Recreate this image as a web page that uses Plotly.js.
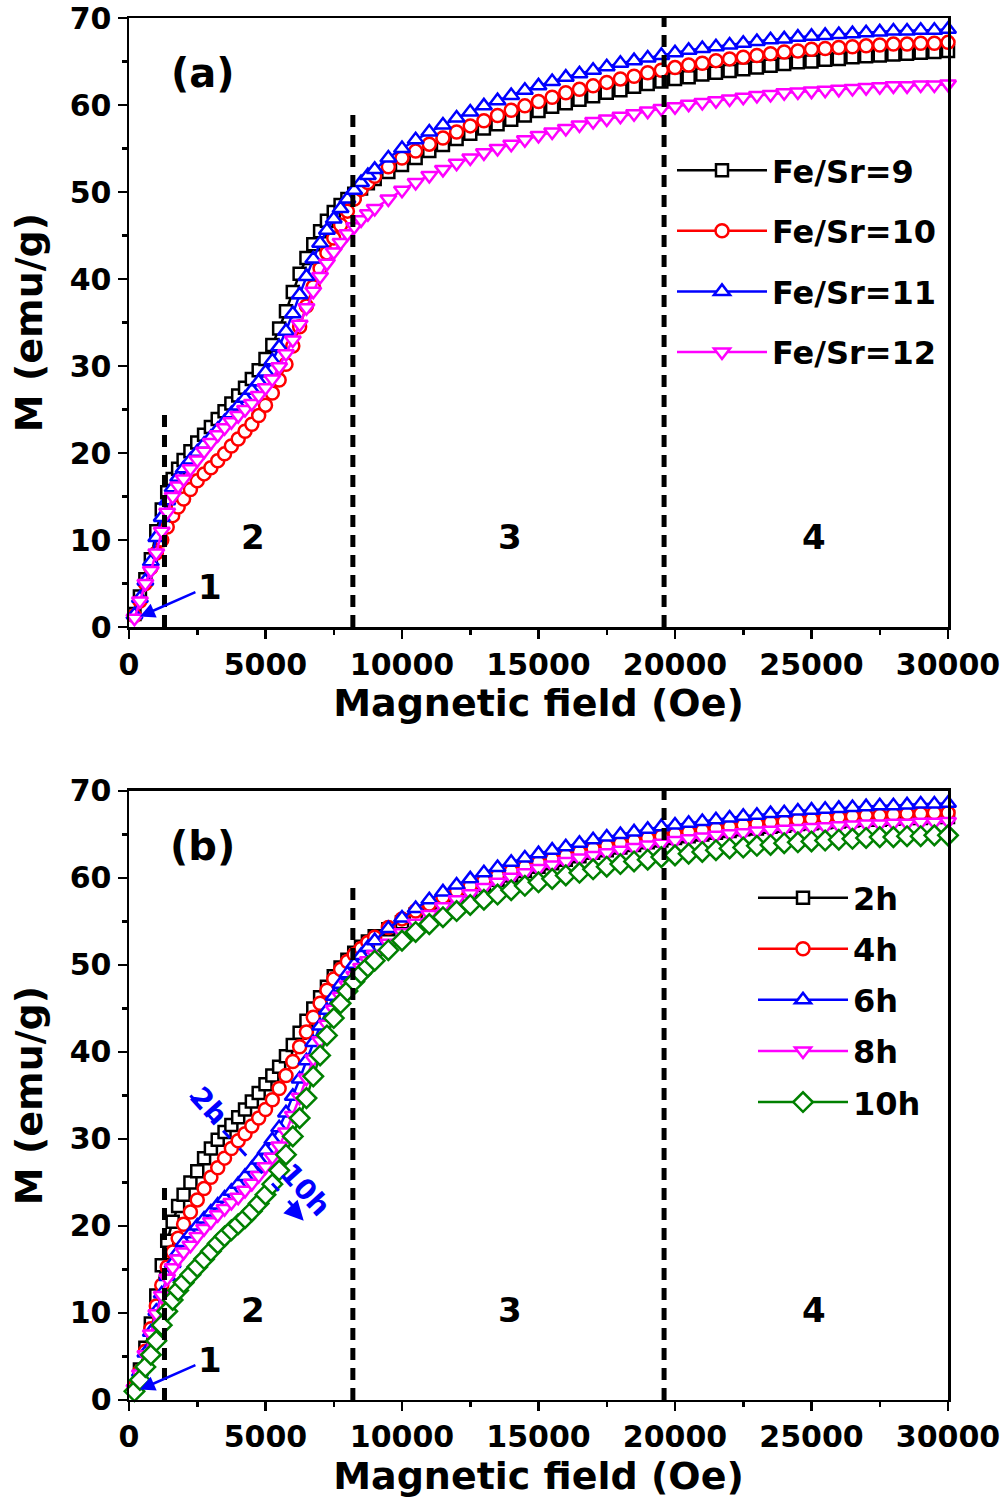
<!DOCTYPE html>
<html>
<head>
<meta charset="utf-8">
<script src="https://cdn.plot.ly/plotly-3.0.1.min.js"></script>
<style>html,body{margin:0;padding:0;background:#fff;}#chart{width:1000px;height:1504px;}</style>
</head>
<body>
<div id="chart"></div>
<script>
// Magnetic field (Oe)
const field = [200,400,600,800,1000,1200,1400,1600,1800,2000,
  2250,2500,2750,3000,3250,3500,3750,4000,4250,4500,4750,5000,5250,5500,5750,6000,6250,6500,6750,7000,7250,7500,7750,8000,8250,8500,8750,9000,
  9500,10000,10500,11000,11500,12000,12500,13000,13500,14000,14500,15000,15500,16000,16500,17000,17500,18000,18500,19000,
  19500,20000,20500,21000,21500,22000,22500,23000,23500,24000,24500,25000,25500,26000,26500,27000,27500,28000,28500,29000,29500,30000];

// Panel (a): Fe/Sr ratio series, M (emu/g)
const fe9 = [1.5,3.5,5.5,7.8,11,13.5,15.5,17,18.2,19.2,
  20.2,21.2,22.1,23,23.9,24.8,25.7,26.6,27.5,28.5,29.5,30.8,32.4,34.3,36.3,38.5,40.6,42.4,44,45.5,46.7,47.7,48.5,49.2,49.8,50.4,51,51.5,
  52.3,53.1,53.9,54.7,55.4,56.1,56.7,57.3,57.8,58.3,58.8,59.3,59.8,60.2,60.6,61,61.4,61.7,62.1,62.4,
  62.7,63,63.2,63.5,63.7,63.9,64.1,64.3,64.5,64.7,64.9,65,65.2,65.3,65.5,65.6,65.7,65.8,65.9,66,66.1,66.2];
const fe10 = [1.3,3,5,6.8,8.5,10,11.5,12.8,13.8,14.7,
  15.8,16.8,17.6,18.3,19.1,19.9,20.8,21.6,22.5,23.3,24.3,25.5,26.9,28.4,30.2,32.3,34.5,36.9,39.1,41.2,43,44.7,46.2,47.8,49.2,50.3,51.1,51.8,
  52.9,53.9,54.7,55.5,56.2,56.9,57.6,58.2,58.8,59.4,59.9,60.4,60.9,61.4,61.8,62.2,62.6,63,63.3,63.7,
  64,64.3,64.6,64.8,65.1,65.3,65.5,65.7,65.9,66.1,66.2,66.4,66.5,66.6,66.7,66.8,66.9,67,67,67.1,67.1,67.2];
const fe11 = [1.4,3.3,5.3,7.5,10.3,12.6,14.5,16,17.2,18.2,
  19.2,20.1,21,21.8,22.7,23.6,24.5,25.4,26.3,27.2,28.2,29.3,30.6,32.2,34,36,38.2,40.3,42.3,44.1,45.6,46.9,48.1,49.2,50.2,51.1,51.9,52.6,
  53.9,55,56,56.9,57.7,58.5,59.2,59.9,60.5,61.1,61.7,62.2,62.7,63.2,63.6,64,64.4,64.8,65.1,65.4,
  65.7,66,66.3,66.5,66.7,66.9,67.1,67.3,67.5,67.6,67.8,67.9,68,68.1,68.2,68.3,68.4,68.5,68.5,68.6,68.6,68.7];
const fe12 = [1,3,5,6.5,8.5,11,13.2,15,16.2,17,
  18.2,19.2,20.2,21.2,22.1,22.9,23.6,24.3,25,25.7,26.6,27.5,28.5,29.9,31.4,33,34.8,36.7,38.6,40.3,41.8,43.1,44.2,45.2,46,46.8,47.5,48.1,
  49.2,50.2,51.1,51.9,52.6,53.3,53.9,54.5,55,55.5,56,56.5,56.9,57.3,57.7,58.1,58.4,58.7,59,59.3,
  59.6,59.8,60.1,60.3,60.5,60.7,60.9,61.1,61.2,61.4,61.5,61.6,61.7,61.8,61.9,62,62.1,62.2,62.2,62.3,62.3,62.4];

// Panel (b): milling time series, M (emu/g)
const h2 = [1.5,3.5,6,8.8,12,15.5,18.3,20.5,22.3,23.6,
  25,26.3,27.8,28.9,29.9,30.8,31.6,32.5,33.4,34.3,35.3,36.3,37.3,38.3,39.5,40.8,42.2,43.6,45,46.3,47.5,48.7,49.7,50.6,51.4,52.1,52.7,53.3,
  54.1,54.9,55.8,56.6,57.3,58,58.6,59.2,59.8,60.3,60.8,61.3,61.7,62.1,62.5,62.9,63.2,63.5,63.8,64.1,
  64.3,64.6,64.8,65,65.2,65.4,65.6,65.7,65.9,66,66.2,66.3,66.4,66.5,66.6,66.7,66.7,66.8,66.9,66.9,67,67];
const h4 = [1.5,3.3,5.6,8.2,10.8,13.2,15.3,17,18.6,20.2,
  21.6,23,24.3,25.6,26.7,27.8,28.9,29.8,30.6,31.5,32.4,33.4,34.5,35.8,37.3,38.9,40.6,42.3,44,45.6,47.1,48.4,49.5,50.4,51.2,51.9,52.6,53.2,
  54.3,55.3,56.2,57,57.8,58.5,59.1,59.7,60.3,60.8,61.3,61.8,62.2,62.6,63,63.4,63.7,64,64.3,64.6,
  64.8,65.1,65.3,65.5,65.7,65.9,66.1,66.2,66.4,66.5,66.7,66.8,66.9,67,67.1,67.2,67.2,67.3,67.4,67.4,67.5,67.5];
const h6 = [1.4,3.2,5.4,7.8,10.2,12.2,14.2,15.7,17,18.1,
  19.1,20,20.8,21.6,22.4,23.2,24,24.8,25.7,26.6,27.6,28.7,29.9,31.3,33,34.9,36.9,39,41.1,43,44.8,46.4,47.8,49,50.1,51.1,52,52.8,
  54.2,55.4,56.5,57.5,58.4,59.2,59.9,60.6,61.2,61.8,62.3,62.8,63.2,63.6,64,64.4,64.7,65,65.3,65.6,
  65.9,66.1,66.3,66.5,66.7,66.9,67.1,67.2,67.4,67.5,67.7,67.8,67.9,68,68.1,68.2,68.3,68.3,68.4,68.5,68.5,68.6];
const h8 = [1.3,3,5.2,7.6,9.9,12,14,15.2,16.2,17,
  17.8,18.8,19.7,20.5,21.3,22,22.7,23.3,24.1,24.9,25.8,26.8,27.9,29.2,30.8,32.7,34.8,37,39.2,41.3,43.2,44.9,46.4,47.7,48.8,49.7,50.5,51.2,
  52.5,53.7,54.8,55.8,56.7,57.5,58.2,58.9,59.5,60.1,60.6,61.1,61.5,61.9,62.3,62.6,62.9,63.2,63.5,63.8,
  64,64.3,64.5,64.7,64.9,65.1,65.2,65.4,65.5,65.6,65.7,65.8,65.9,66,66.1,66.2,66.2,66.3,66.3,66.4,66.4,66.5];
const h10 = [1,2.3,3.8,5.2,6.8,8.6,10.2,11.5,12.6,13.5,
  14.4,15.3,16.2,17.1,18,18.8,19.5,20.2,20.9,21.7,22.6,23.6,24.8,26.4,28.2,30.3,32.4,34.7,37.2,39.6,41.9,43.9,45.6,47,48.1,49,49.8,50.5,
  51.7,52.8,53.8,54.7,55.5,56.2,56.9,57.5,58.1,58.6,59.1,59.5,59.9,60.3,60.6,61,61.3,61.6,61.9,62.1,
  62.4,62.6,62.8,63,63.2,63.4,63.5,63.7,63.8,64,64.1,64.2,64.3,64.4,64.5,64.6,64.7,64.7,64.8,64.8,64.9,64.9];

const namesA = ['Fe/Sr=9','Fe/Sr=10','Fe/Sr=11','Fe/Sr=12'];
const namesB = ['2h','4h','6h','8h','10h'];
const xTicks = [0,5000,10000,15000,20000,25000,30000];
const xTickText = ['0','5000','10000','15000','20000','25000','30000'];
const yTicks = [0,10,20,30,40,50,60,70];
// region boundaries (Oe) and their top (emu/g)
const bounds = [1300, 8200, 19600];
const boundTops = [24.5, 59.2, 70];
const regionLabels = ['2','3','4'];
const regionX = [4550, 13950, 25100];

const FF = 'DejaVu Sans';
const colors = ['#000000','#ff0000','#0000ff','#ff00ff','#008000'];
const symbols = ['square','circle','triangle-up','triangle-down','diamond'];
const sizes = [12, 13, 14, 14, 15];

function mk(y, i, name, xa, ya, lg) {
  return {
    x: field, y: y, name: name, type: 'scatter', mode: 'lines+markers',
    xaxis: xa, yaxis: ya, legend: lg, legendgroup: lg + name, cliponaxis: false,
    line: {color: colors[i], width: 2.5},
    marker: {symbol: symbols[i], size: sizes[i], color: '#ffffff', line: {color: colors[i], width: 2.5}}
  };
}

const traces = [
  mk(fe9, 0, namesA[0], 'x', 'y', 'legend'),
  mk(fe10, 1, namesA[1], 'x', 'y', 'legend'),
  mk(fe11, 2, namesA[2], 'x', 'y', 'legend'),
  mk(fe12, 3, namesA[3], 'x', 'y', 'legend'),
  mk(h2, 0, namesB[0], 'x2', 'y2', 'legend2'),
  mk(h4, 1, namesB[1], 'x2', 'y2', 'legend2'),
  mk(h6, 2, namesB[2], 'x2', 'y2', 'legend2'),
  mk(h8, 3, namesB[3], 'x2', 'y2', 'legend2'),
  mk(h10, 4, namesB[4], 'x2', 'y2', 'legend2')
];

const tickFont = {family: FF, size: 30, weight: 'bold', color: '#000'};
const titleFont = {family: FF, size: 38, weight: 'bold', color: '#000'};

function xax(anchor) {
  return {
    anchor: anchor, domain: [0.129, 0.948], range: [0, 30000], tickvals: xTicks, ticktext: xTickText,
    ticklabeloverflow: 'allow',
    showline: true, linecolor: '#000', linewidth: 2.5, mirror: true,
    ticks: 'outside', ticklen: 9, tickwidth: 2.5, tickcolor: '#000',
    minor: {ticks: 'outside', ticklen: 5, tickwidth: 2.5, tickcolor: '#000', dtick: 2500, showgrid: false},
    showgrid: false, zeroline: false, tickfont: tickFont,
    title: {text: 'Magnetic field (Oe)', font: titleFont, standoff: 7}
  };
}
function yax(anchor, dom) {
  return {
    anchor: anchor, domain: dom, range: [0, 70], tickvals: yTicks,
    ticklabeloverflow: 'allow',
    showline: true, linecolor: '#000', linewidth: 2.5, mirror: true,
    ticks: 'outside', ticklen: 9, tickwidth: 2.5, tickcolor: '#000',
    minor: {ticks: 'outside', ticklen: 5, tickwidth: 2.5, tickcolor: '#000', dtick: 5, showgrid: false},
    showgrid: false, zeroline: false, tickfont: tickFont,
    title: {text: 'M (emu/g)', font: titleFont, standoff: 16}
  };
}

const shapes = [];
['x', 'x2'].forEach((xr, p) => {
  const yr = p === 0 ? 'y' : 'y2';
  bounds.forEach((b, k) => {
    shapes.push({type: 'line', xref: xr, yref: yr, x0: b, x1: b, y0: 0, y1: boundTops[k],
      line: {color: '#000', width: 5, dash: '12px,8px'}});
  });
});
// dashed blue arrow shaft in panel (b), 2h -> 10h
shapes.push({type: 'line', xref: 'x2', yref: 'y2', x0: 2250, y0: 35, x1: 6150, y1: 21.8,
  line: {color: '#0000ff', width: 3, dash: '10px,14px'}});

const annotations = [];
['x', 'x2'].forEach((xr, p) => {
  const yr = p === 0 ? 'y' : 'y2';
  regionLabels.forEach((t, k) => {
    annotations.push({xref: xr, yref: yr, x: regionX[k], y: 10.4, text: t, showarrow: false,
      font: {family: FF, size: 34, weight: 'bold', color: '#000'}});
  });
  // region 1 arrow
  annotations.push({xref: xr, yref: yr, x: 400, y: 1.2, ax: 57, ay: -25, text: '', showarrow: true,
    arrowhead: 2, arrowsize: 1.2, arrowwidth: 2.5, arrowcolor: '#0000ff', standoff: 0});
  annotations.push({xref: xr, yref: yr, x: 2950, y: 4.6, text: '1', showarrow: false,
    font: {family: FF, size: 34, weight: 'bold', color: '#000'}});
  annotations.push({xref: xr, yref: yr, x: 2700, y: 63.7, text: p === 0 ? '(a)' : '(b)', showarrow: false,
    font: {family: FF, size: 40, weight: 'bold', color: '#000'}});
});
annotations.push({xref: 'x2', yref: 'y2', x: 6400, y: 20.6, ax: -14, ay: -15, text: '', showarrow: true,
  arrowhead: 2, arrowsize: 1.3, arrowwidth: 3, arrowcolor: '#0000ff', standoff: 0});
annotations.push({xref: 'x2', yref: 'y2', x: 2900, y: 33.8, text: '2h', textangle: 48, showarrow: false,
  font: {family: FF, size: 28, weight: 'bold', color: '#0000ff'}});
annotations.push({xref: 'x2', yref: 'y2', x: 6450, y: 24.2, text: '10h', textangle: 48, showarrow: false,
  font: {family: FF, size: 28, weight: 'bold', color: '#0000ff'}});

const legFont = {family: FF, size: 32, weight: 'bold', color: '#000'};
const layout = {
  width: 1000, height: 1504, margin: {l: 0, r: 0, t: 0, b: 0},
  paper_bgcolor: '#fff', plot_bgcolor: '#fff', showlegend: true,
  xaxis: xax('y'), yaxis: yax('x', [0.58311, 0.98803]),
  xaxis2: xax('y2'), yaxis2: yax('x2', [0.06915, 0.47407]),
  legend: {x: 0.672, y: 0.905, xanchor: 'left', yanchor: 'top', font: legFont, bgcolor: 'rgba(0,0,0,0)',
    traceorder: 'grouped', tracegroupgap: 16, itemwidth: 90},
  legend2: {x: 0.753, y: 0.4213, xanchor: 'left', yanchor: 'top', font: legFont, bgcolor: 'rgba(0,0,0,0)',
    traceorder: 'grouped', tracegroupgap: 6.5, itemwidth: 90},
  shapes: shapes, annotations: annotations
};

Plotly.newPlot('chart', traces, layout, {staticPlot: true, displayModeBar: false});
</script>
</body>
</html>
